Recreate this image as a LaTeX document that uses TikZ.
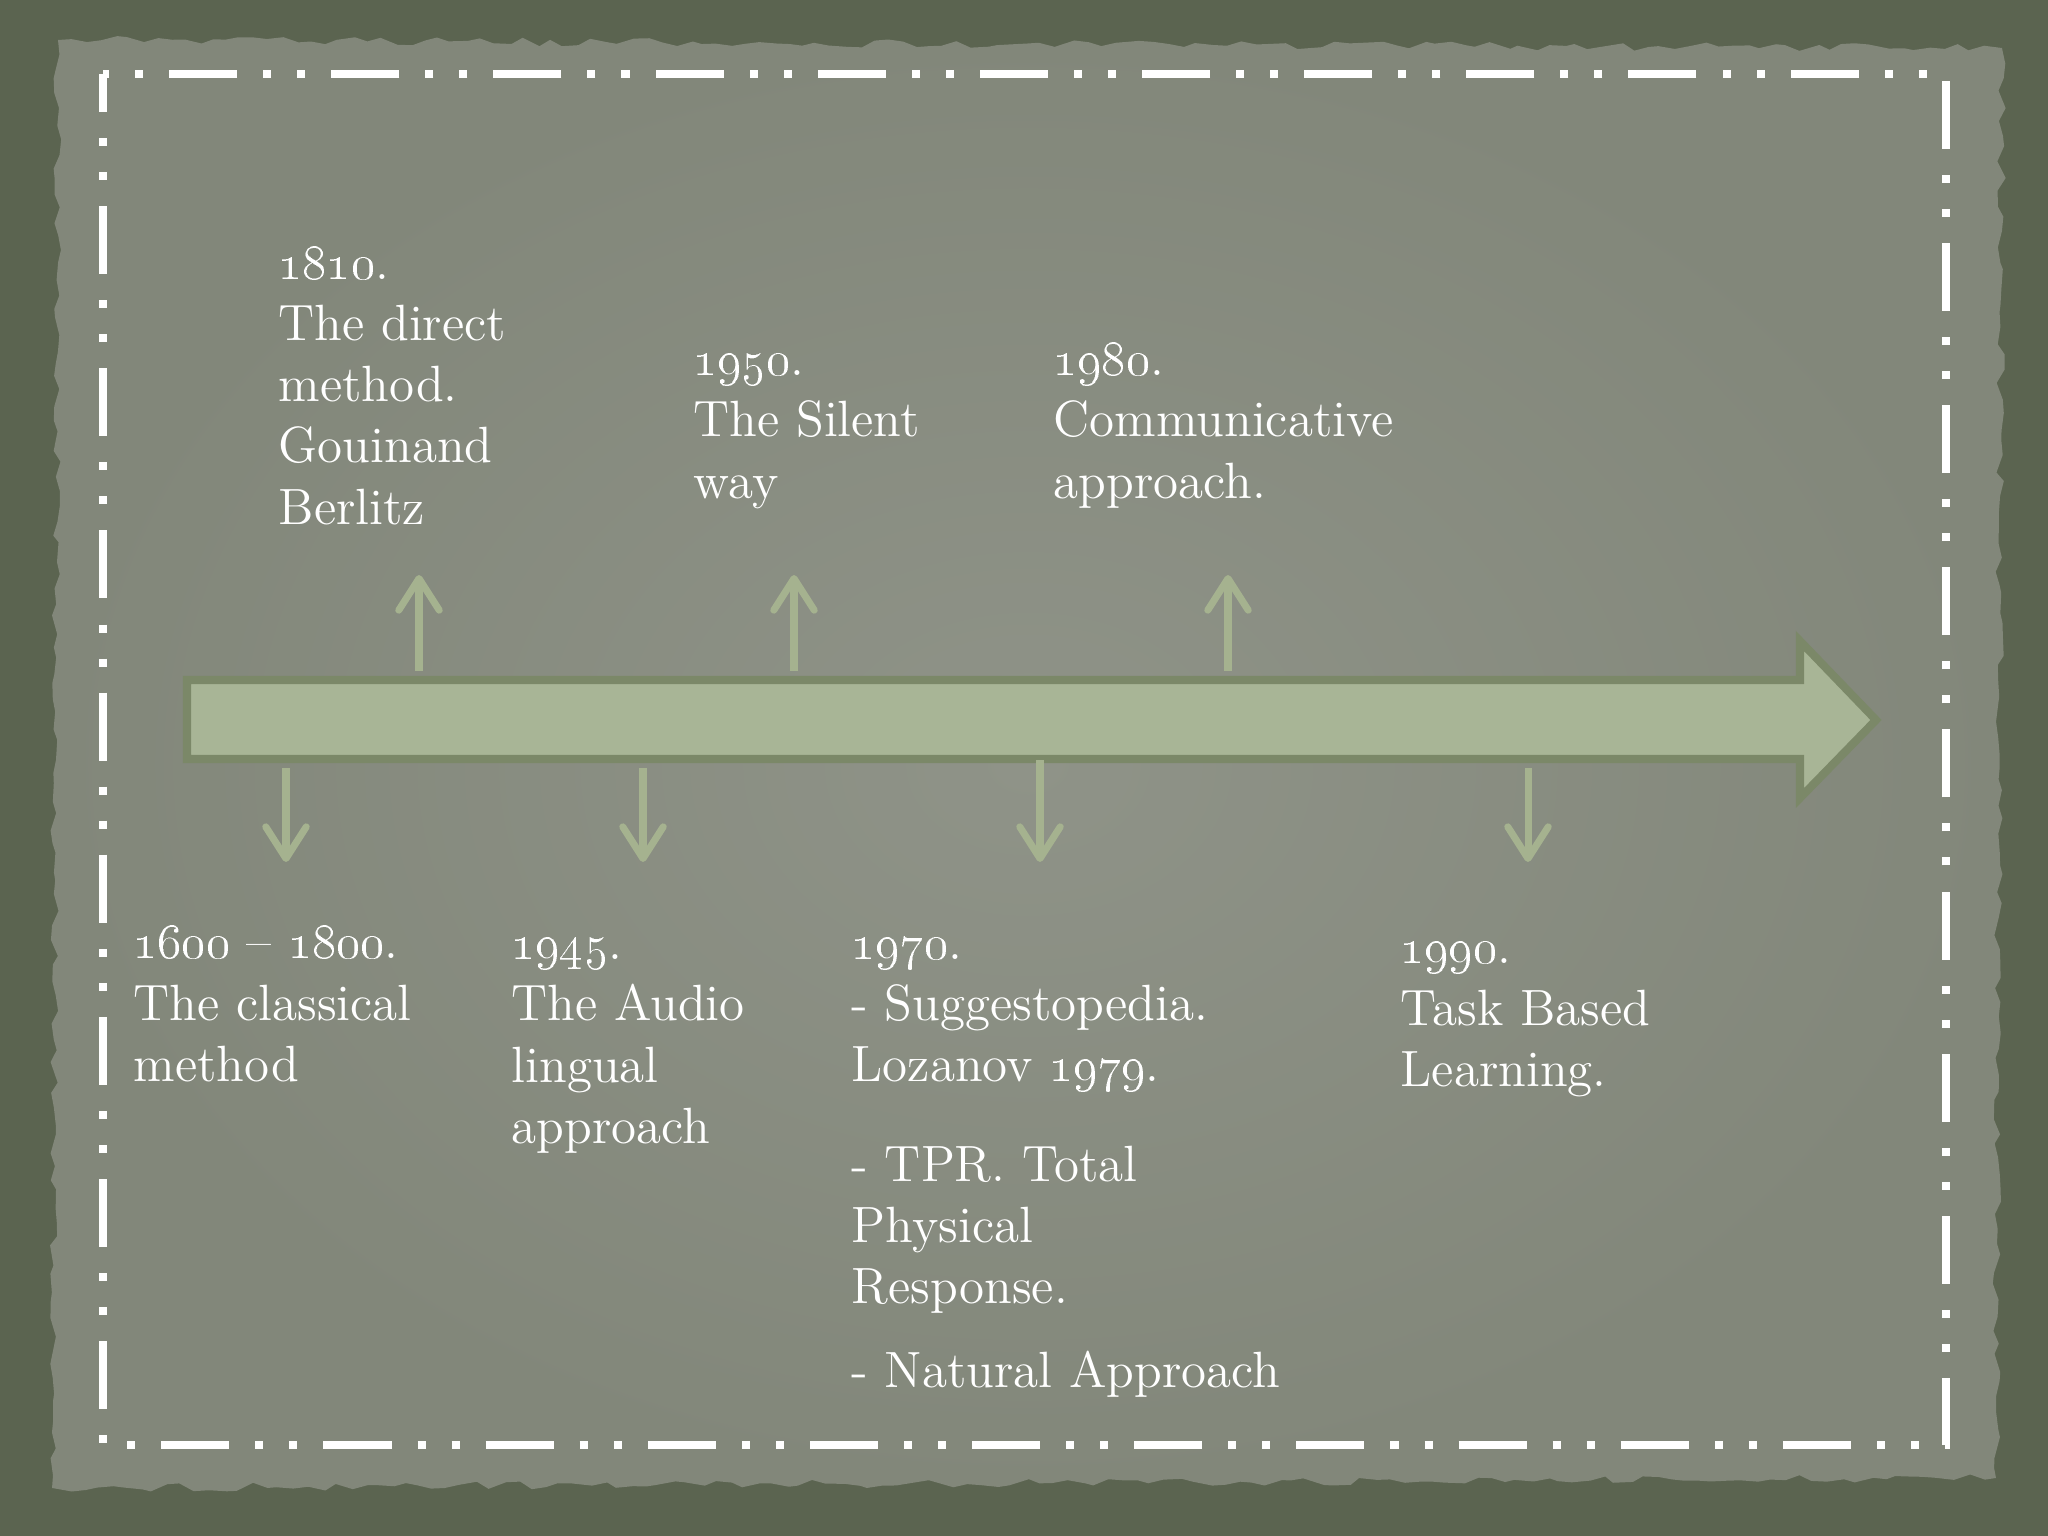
\documentclass[tikz,border=0pt]{standalone}
\usepackage{tikz}
\usetikzlibrary{arrows.meta,decorations.pathmorphing}

\definecolor{bgdark}{HTML}{5B6450}
\definecolor{paper}{HTML}{82877A}
\definecolor{paperlight}{HTML}{8F9388}
\definecolor{linegreen}{HTML}{A8B596}
\definecolor{lineedge}{HTML}{7B8868}
\definecolor{tickgreen}{HTML}{A5B28F}

\tikzset{
  entry/.style={anchor=base west, inner sep=0pt, align=left, text=white,
    font=\fontsize{14.5}{17.35}\selectfont},
  tick/.style={draw=tickgreen, line width=2pt,
    -{Straight Barb[length=9pt,width=11.5pt,round]}},
}

\begin{document}
\begin{tikzpicture}[x=0.01cm,y=-0.01cm]
\useasboundingbox (0,0) rectangle (2048,1536);
\fill[bgdark] (0,0) rectangle (2048,1536);
\pgfmathsetseed{7}
\shade[inner color=paperlight, outer color=paper, decorate,
  decoration={random steps,segment length=4pt,amplitude=1.2pt}]
  (58,40) -- (2002,48) -- (1996,1478) -- (52,1488) -- cycle;

% frame
\draw[white, line width=2.28pt,
  dash pattern=on 19.35pt off 7.4pt on 2.28pt off 7.4pt on 2.28pt off 7.4pt,
  dash phase=8.54pt] (103,74) rectangle (1946,1445);

% timeline
\draw[fill=linegreen, draw=lineedge, line width=2.3pt]
  (187,680) -- (1800,680) -- (1800,641) -- (1876,720) -- (1800,798)
  -- (1800,759) -- (187,759) -- cycle;

\coordinate (u1) at (419,671); \coordinate (u1e) at (419,575);
\coordinate (u2) at (794,671); \coordinate (u2e) at (794,575);
\coordinate (u3) at (1228,671); \coordinate (u3e) at (1228,575);
\coordinate (l1) at (286,768); \coordinate (l1e) at (286,862);
\coordinate (l2) at (643,768); \coordinate (l2e) at (643,862);
\coordinate (l3) at (1040,760); \coordinate (l3e) at (1040,862);
\coordinate (l4) at (1528,768); \coordinate (l4e) at (1528,862);
\draw[tick] (u1) -- (u1e);
\draw[tick] (u2) -- (u2e);
\draw[tick] (u3) -- (u3e);
\draw[tick] (l1) -- (l1e);
\draw[tick] (l2) -- (l2e);
\draw[tick] (l3) -- (l3e);
\draw[tick] (l4) -- (l4e);

% base = baseline of the last line
\node[entry] (d1810) at (278,524) {\oldstylenums{1810}.\\The direct\\method.\\Gouinand\\Berlitz};
\node[entry] (d1950) at (693,498) {\oldstylenums{1950}.\\The Silent\\way};
\node[entry] (d1980) at (1053,498) {\oldstylenums{1980}.\\Communicative\\approach.};
\node[entry] (d1600) at (133,1081) {\oldstylenums{1600} -- \oldstylenums{1800}.\\The classical\\method};
\node[entry] (d1945) at (511,1143) {\oldstylenums{1945}.\\The Audio\\lingual\\approach};
\node[entry] (d1970) at (851,1387) {\oldstylenums{1970}.\\- Suggestopedia.\\Lozanov \oldstylenums{1979}.\\[11pt]- TPR. Total\\Physical\\Response.\\[6.5pt]- Natural Approach};
\node[entry] (d1990) at (1400,1086) {\oldstylenums{1990}.\\Task Based\\Learning.};
\end{tikzpicture}
\end{document}
